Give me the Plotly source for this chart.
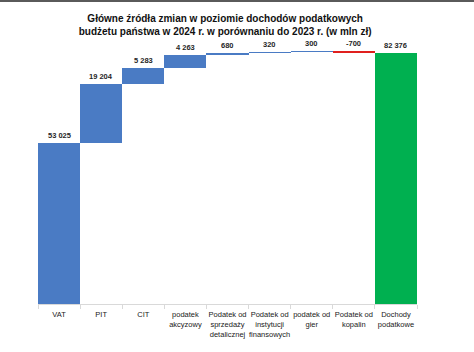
import plotly.graph_objects as go

categories = ["VAT", "PIT", "CIT", "podatek<br>akcyzowy", "Podatek od<br>sprzedaży<br>detalicznej",
              "Podatek od<br>instytucji<br>finansowych", "podatek od<br>gier", "Podatek od<br>kopalin",
              "Dochody<br>podatkowe"]
values = [53025, 19204, 5283, 4263, 680, 320, 300, -700, 82376]
measures = ["relative"] * 8 + ["total"]
labels = ["53 025", "19 204", "5 283", "4 263", "680", "320", "300", "-700", "82 376"]

fig = go.Figure(go.Waterfall(
    x=categories, y=values, measure=measures,
    increasing=dict(marker=dict(color="#4a7bc4")),
    decreasing=dict(marker=dict(color="#e0201e")),
    totals=dict(marker=dict(color="#00b050")),
    connector=dict(visible=False),
    textinfo="none", hoverinfo="skip",
))

# value labels above each bar top
cum = 0
for i, (v, m, lab) in enumerate(zip(values, measures, labels)):
    if m == "total":
        top = v
    else:
        top = max(cum, cum + v)
        cum += v
    fig.add_annotation(x=categories[i], y=top, text="<b>" + lab + "</b>", showarrow=False,
                       yanchor="bottom", yshift=1,
                       font=dict(family="Liberation Sans", size=7.5, color="#262626"))

fig.add_shape(type="rect", xref="paper", yref="paper", x0=-0.2, x1=1.3, y0=1.1022, y1=1.2,
              fillcolor="#5a5a5a", line=dict(width=0), layer="above")

fig.update_layout(
    width=474, height=352,
    margin=dict(l=38, r=57, t=30, b=48),
    paper_bgcolor="white", plot_bgcolor="white",
    waterfallgap=0,
    showlegend=False,
    title=dict(text="<b>Główne źródła zmian w poziomie dochodów podatkowych<br>budżetu państwa w 2024 r. w porównaniu do 2023 r. (w mln zł)</b>",
               x=0.475, xanchor="center", xref="container", y=1 - 21.5 / 352, yanchor="middle", yref="container",
               font=dict(family="Liberation Sans", size=10, color="#111111")),
    xaxis=dict(type="category", showline=True, linecolor="#d9d9d9", linewidth=1,
               ticks="outside", tickson="boundaries", ticklen=4, tickcolor="#d9d9d9",
               ticklabelstandoff=3,
               tickfont=dict(family="Liberation Sans", size=7.5, color="#1a1a1a"),
               showgrid=False, tickangle=0),
    yaxis=dict(range=[0, 90000], visible=False, showgrid=False, zeroline=False),
)

fig.write_html("out.html")
